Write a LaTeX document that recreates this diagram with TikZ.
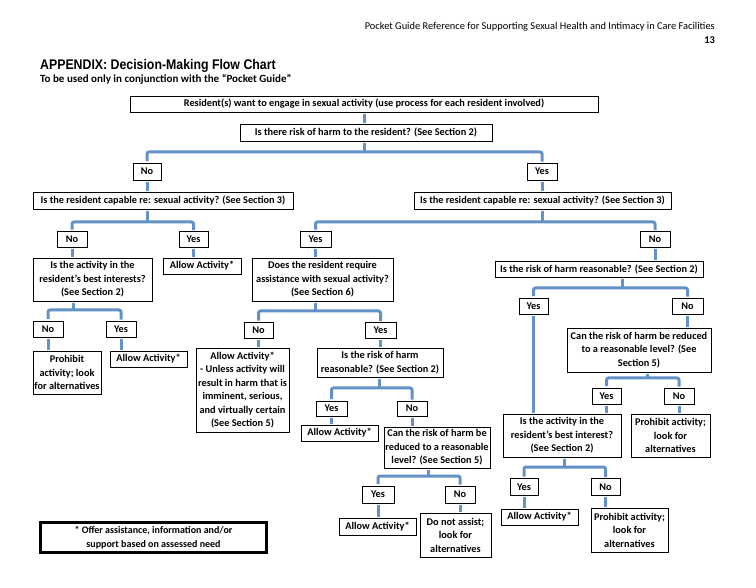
\documentclass[tikz,border=0pt]{standalone}
\usepackage{fontspec}
\setmainfont{Carlito}
\newfontfamily\titlefont[FakeStretch=0.88]{Liberation Sans}

\definecolor{linkblue}{RGB}{99,145,200}
\tikzset{
  box/.style={draw,line width=0.9pt,inner sep=1pt,align=center,
    font=\bfseries\fontsize{10.3}{13.5}\selectfont},
  link/.style={draw=linkblue,line width=3pt,shorten <=1.5pt,shorten >=1pt},
  bracket/.style={link,rounded corners=2pt}
}

\begin{document}
\begin{tikzpicture}[x=1pt,y=-1pt]
\useasboundingbox (0,0) rectangle (756,588);
% page head
\node[anchor=base east,inner sep=0,font=\fontsize{10.4}{12}\selectfont] (head) at (715,29.5)
  {Pocket Guide Reference for Supporting Sexual Health and Intimacy in Care Facilities};
\node[anchor=base east,inner sep=0,font=\bfseries\fontsize{10.4}{12}\selectfont] (page) at (715,44) {13};
\node[anchor=base west,inner sep=0,font=\titlefont\bfseries\fontsize{14}{16}\selectfont] (title) at (40,69.5)
  {APPENDIX: Decision-Making Flow Chart};
\node[anchor=base west,inner sep=0,font=\bfseries\fontsize{11}{13}\selectfont] (subtitle) at (40,83)
  {To be used only in conjunction with the “Pocket Guide”};

% boxes
\node[box,minimum width=468,minimum height=16] (start) at (364,104)
  {Resident(s) want to engage in sexual activity (use process for each resident involved)};
\node[box,minimum width=252,minimum height=17] (risk) at (366,132.5)
  {Is there risk of harm to the resident? (See Section 2)};
\node[box,minimum width=28,minimum height=17] (noA) at (147,171.5) {No};
\node[box,minimum width=30,minimum height=17] (yesA) at (542,171.5) {Yes};
\node[box,minimum width=260,minimum height=17] (capL) at (163,200.5)
  {Is the resident capable re: sexual activity? (See Section 3)};
\node[box,minimum width=257,minimum height=17] (capR) at (542.5,200.5)
  {Is the resident capable re: sexual activity? (See Section 3)};

% left: not at risk
\node[box,minimum width=30,minimum height=16] (noB) at (72,239.5) {No};
\node[box,minimum width=29,minimum height=16] (yesB) at (193.5,239.5) {Yes};
\node[box,minimum width=119,minimum height=43] (bestL) at (92.5,279.5)
  {Is the activity in the\\resident’s best interests?\\(See Section 2)};
\node[box,minimum width=78,minimum height=16] (allowB) at (202,266) {Allow Activity*};
\node[box,minimum width=30,minimum height=16] (noC) at (48,329) {No};
\node[box,minimum width=30,minimum height=16] (yesC) at (121,329) {Yes};
\node[box,minimum width=68,minimum height=43] (prohL) at (67,372.5)
  {Prohibit\\activity; look\\for alternatives};
\node[box,minimum width=77,minimum height=16] (allowC) at (148.5,359) {Allow Activity*};

% middle: at risk, capable
\node[box,minimum width=31,minimum height=16] (yesD) at (315.5,239.5) {Yes};
\node[box,minimum width=141,minimum height=43] (assist) at (322.5,279.5)
  {Does the resident require\\assistance with sexual activity?\\(See Section 6)};
\node[box,minimum width=29,minimum height=16] (noE) at (258.5,330.5) {No};
\node[box,minimum width=31,minimum height=16] (yesE) at (380.5,330.5) {Yes};
\node[box,minimum width=93,minimum height=84] (unless) at (242.5,390)
  {Allow Activity*\\- Unless activity will\\result in harm that is\\imminent, serious,\\and virtually certain\\(See Section 5)};
\node[box,minimum width=126,minimum height=29] (reasM) at (380,362.5)
  {Is the risk of harm\\reasonable? (See Section 2)};
\node[box,minimum width=31,minimum height=15] (yesF) at (331.5,408.5) {Yes};
\node[box,minimum width=30,minimum height=15] (noF) at (412,408.5) {No};
\node[box,minimum width=77,minimum height=16] (allowF) at (339.5,433) {Allow Activity*};
\node[box,minimum width=106,minimum height=41] (reduceM) at (437,447.5)
  {Can the risk of harm be\\reduced to a reasonable\\level? (See Section 5)};
\node[box,minimum width=32,minimum height=17] (yesG) at (378,494.5) {Yes};
\node[box,minimum width=30,minimum height=17] (noG) at (460,494.5) {No};
\node[box,minimum width=77,minimum height=17] (allowG) at (377.5,526.5) {Allow Activity*};
\node[box,minimum width=71,minimum height=44] (notassist) at (455.5,535)
  {Do not assist;\\look for\\alternatives};

% right: at risk, not capable
\node[box,minimum width=30,minimum height=16] (noD) at (655,239.5) {No};
\node[box,minimum width=208,minimum height=16] (reasR) at (599,269)
  {Is the risk of harm reasonable? (See Section 2)};
\node[box,minimum width=29,minimum height=16] (yesH) at (533.5,306) {Yes};
\node[box,minimum width=31,minimum height=16] (noH) at (687.5,306) {No};
\node[box,minimum width=144,minimum height=44] (reduceR) at (639,350)
  {Can the risk of harm be reduced\\to a reasonable level? (See\\Section 5)};
\node[box,minimum width=29,minimum height=16] (yesI) at (606.5,396) {Yes};
\node[box,minimum width=30,minimum height=16] (noI) at (679,396) {No};
\node[box,minimum width=118,minimum height=43] (bestR) at (562,435.5)
  {Is the activity in the\\resident’s best interest?\\(See Section 2)};
\node[box,minimum width=79,minimum height=43] (prohR) at (670.5,435.5)
  {Prohibit activity;\\look for\\alternatives};
\node[box,minimum width=28,minimum height=17] (yesJ) at (524,487) {Yes};
\node[box,minimum width=29,minimum height=17] (noJ) at (605.5,487) {No};
\node[box,minimum width=77,minimum height=16] (allowJ) at (539.5,517) {Allow Activity*};
\node[box,minimum width=77,minimum height=44] (prohRB) at (629.5,530)
  {Prohibit activity;\\look for\\alternatives};

% footnote
\node[box,line width=3pt,minimum width=226,minimum height=30,
  font=\bfseries\fontsize{10}{14}\selectfont] (foot) at (153.5,537.5)
  {* Offer assistance, information and/or\\support based on assessed need};

% junctions
\coordinate (jRisk) at (364,152);
\coordinate (jCapL) at (147,222);
\coordinate (jBestL) at (73,310);
\coordinate (jCapR) at (542,222);
\coordinate (jAssist) at (315,311);
\coordinate (jReasM) at (379,388);
\coordinate (jReduceM) at (428,476);
\coordinate (jReasR) at (622,288);
\coordinate (jReduceR) at (647,378);
\coordinate (jBestR) at (564,467);

% straight links
\draw[link] (start.south) -- (start.south |- risk.north);
\draw[link] (noA.south) -- (noA.south |- capL.north);
\draw[link] (yesA.south) -- (yesA.south |- capR.north);
\draw[link] (noB.south) -- (noB.south |- bestL.north);
\draw[link] (yesB.south) -- (yesB.south |- allowB.north);
\draw[link] (noC.south) -- (noC.south |- prohL.north);
\draw[link] (yesC.south) -- (yesC.south |- allowC.north);
\draw[link] (yesD.south) -- (yesD.south |- assist.north);
\draw[link] (noD.south) -- (noD.south |- reasR.north);
\draw[link] (noE.south) -- (noE.south |- unless.north);
\draw[link] (yesE.south) -- (yesE.south |- reasM.north);
\draw[link] (yesF.south) -- (yesF.south |- allowF.north);
\draw[link] (noF.south) -- (noF.south |- reduceM.north);
\draw[link] (yesG.south) -- (yesG.south |- allowG.north);
\draw[link] (noG.south) -- (noG.south |- notassist.north);
\draw[link] (yesH.south) -- (yesH.south |- bestR.north);
\draw[link] (noH.south) -- (noH.south |- reduceR.north);
\draw[link] (yesI.south) -- (yesI.south |- bestR.north);
\draw[link] (noI.south) -- (noI.south |- prohR.north);
\draw[link] (yesJ.south) -- (yesJ.south |- allowJ.north);
\draw[link] (noJ.south) -- (noJ.south |- prohRB.north);

% branches
\draw[link,shorten >=0pt] (risk.south -| jRisk) -- (jRisk);
\draw[bracket] (noA.north) |- (jRisk) -| (yesA.north);
\draw[link,shorten >=0pt] (capL.south -| jCapL) -- (jCapL);
\draw[bracket] (noB.north) |- (jCapL) -| (yesB.north);
\draw[link,shorten >=0pt] (bestL.south -| jBestL) -- (jBestL);
\draw[bracket] (noC.north) |- (jBestL) -| (yesC.north);
\draw[link,shorten >=0pt] (capR.south -| jCapR) -- (jCapR);
\draw[bracket] (yesD.north) |- (jCapR) -| (noD.north);
\draw[link,shorten >=0pt] (assist.south -| jAssist) -- (jAssist);
\draw[bracket] (noE.north) |- (jAssist) -| (yesE.north);
\draw[link,shorten >=0pt] (reasM.south -| jReasM) -- (jReasM);
\draw[bracket] (yesF.north) |- (jReasM) -| (noF.north);
\draw[link,shorten >=0pt] (reduceM.south -| jReduceM) -- (jReduceM);
\draw[bracket] (yesG.north) |- (jReduceM) -| (noG.north);
\draw[link,shorten >=0pt] (reasR.south -| jReasR) -- (jReasR);
\draw[bracket] (yesH.north) |- (jReasR) -| (noH.north);
\draw[link,shorten >=0pt] (reduceR.south -| jReduceR) -- (jReduceR);
\draw[bracket] (yesI.north) |- (jReduceR) -| (noI.north);
\draw[link,shorten >=0pt] (bestR.south -| jBestR) -- (jBestR);
\draw[bracket] (yesJ.north) |- (jBestR) -| (noJ.north);
\end{tikzpicture}
\end{document}
